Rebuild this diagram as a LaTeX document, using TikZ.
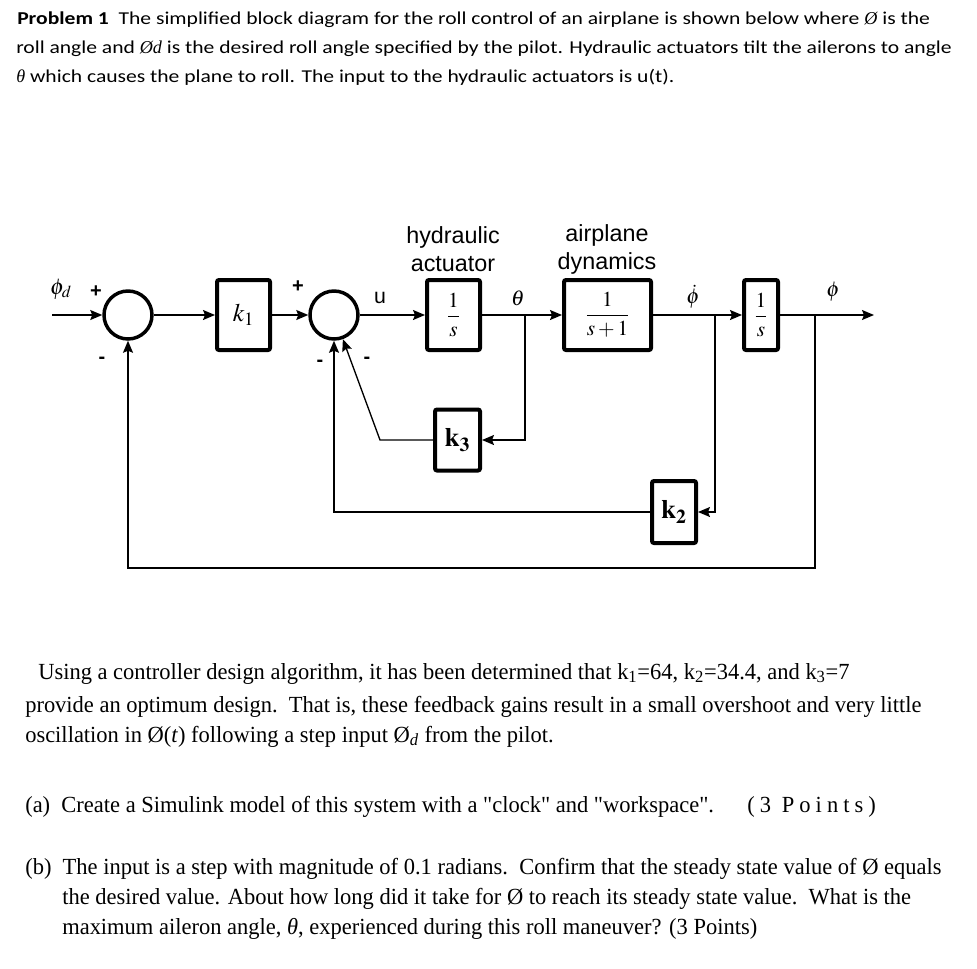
\documentclass[tikz,border=0pt]{standalone}
\usepackage{mathptmx}
\usepackage[no-math]{fontspec}
\setmainfont{Liberation Serif}
\newfontfamily\calib[FakeStretch=1.19]{Carlito}
\newfontfamily\arialf{Liberation Sans}
\newfontfamily\timesc[FakeStretch=0.975]{Liberation Serif}
\usetikzlibrary{arrows.meta}

\begin{document}
\begin{tikzpicture}[x=0.75pt,y=-0.75pt,
        wire/.style={line width=1pt},
        arr/.style={-{Stealth[length=9pt,width=7.5pt,inset=1.5pt]}},
        lbl/.style={inner sep=0pt, font=\arialf\fontsize{16}{19}\selectfont}]

        \useasboundingbox (0,0) rectangle (977,968);

        \begin{scope}[every node/.style={anchor=base west,inner sep=0pt,font=\calib\fontsize{13.6}{16}\selectfont}]
            \node (p1) at (17,24) {\textbf{Problem 1}\ \ The simplified block diagram for the roll control of an airplane is shown below where {\rmfamily\itshape Ø} is the};
            \node (p2) at (16,53) {roll angle and {\rmfamily\itshape Ød} is the desired roll angle specified by the pilot. Hydraulic actuators tilt the ailerons to angle};
            \node (p3) at (16,82) {{\rmfamily\itshape θ} which causes the plane to roll. The input to the hydraulic actuators is u(t).};
        \end{scope}

        \begin{scope}[every node/.style={circle,draw,line width=2.6pt,minimum size=36pt,inner sep=0pt}]
            \node (sum1) at (128,315) {};
            \node (sum2) at (334,315) {};
        \end{scope}

        \begin{scope}[every node/.style={draw,line width=3pt,rounded corners=1.5pt,inner sep=0pt,minimum height=52.5pt,font=\fontsize{16}{19}\selectfont}]
            \node[minimum width=39.75pt,font=\fontsize{19}{22}\selectfont] (k1) at (243.5,315) {$k_1$};
            \node[minimum width=39.75pt] (act) at (453.5,315) {$\displaystyle\frac{1}{s}$};
            \node[minimum width=65.25pt] (plane) at (607.5,315) {$\displaystyle\frac{1}{s+1}$};
            \node[minimum width=25.5pt] (integ) at (761,315) {$\displaystyle\frac{1}{s}$};
        \end{scope}

        \begin{scope}[every node/.style={draw,line width=3pt,rounded corners=1.5pt,inner sep=0pt,font=\fontsize{20}{24}\selectfont}]
            \node[minimum width=33.75pt,minimum height=45.75pt] (k3) at (457.5,440) {$\mathbf{k}_{\mathbf{3}}$};
            \node[minimum width=33pt,minimum height=46.5pt] (k2) at (674,512) {$\mathbf{k}_{\mathbf{2}}$};
        \end{scope}

        \node[lbl,align=center,font=\arialf\fontsize{17.5}{21}\selectfont] (actlbl) at (453,249) {hydraulic\\actuator};
        \node[lbl,align=center,font=\arialf\fontsize{17.5}{21}\selectfont] (planelbl) at (607,249) {airplane\\dynamics};

        \node[lbl,font=\fontsize{17}{20}\selectfont] (phid) at (61,289) {$\phi_d$};
        \node[lbl,font=\arialf\bfseries\fontsize{15}{18}\selectfont] (plus1) at (96,292) {+};
        \node[lbl,font=\arialf\bfseries\fontsize{15}{18}\selectfont] (minus1) at (102,360) {-};
        \node[lbl,font=\arialf\bfseries\fontsize{15}{18}\selectfont] (plus2) at (298,287) {+};
        \node[lbl,font=\arialf\bfseries\fontsize{15}{18}\selectfont] (minus2) at (320,363) {-};
        \node[lbl,font=\arialf\bfseries\fontsize{15}{18}\selectfont] (minus3) at (367,360) {-};
        \node[lbl] (ulbl) at (380,298) {u};
        \node[lbl,font=\fontsize{16}{19}\selectfont] (thlbl) at (518,298) {$\theta$};
        \node[lbl,font=\fontsize{16}{19}\selectfont] (dphilbl) at (693,297) {$\dot{\phi}$};
        \node[lbl,font=\fontsize{16}{19}\selectfont] (philbl) at (833,292) {$\phi$};

        \coordinate (in) at (52,315);
        \coordinate (bth) at (525,315);
        \coordinate (bdphi) at (715,315);
        \coordinate (bphi) at (815,315);
        \coordinate (out) at (874,315);
        \coordinate (c3) at (380,440);
        \coordinate (fb) at (128,568);

        \begin{scope}[every path/.style={wire}]
            \path [arr] (in) edge (sum1);
            \path [arr] (sum1) edge (k1);
            \path [arr] (k1) edge (sum2);
            \path [arr] (sum2) edge (act);
            \path [arr] (act) edge (plane);
            \path [arr] (plane) edge (integ);
            \path [arr] (integ) edge (out);

            \draw [arr] (bth) |- (k3);
            \draw [arr] (bdphi) |- (k2);
            \draw [arr] (k3) -- (c3) -- (sum2);
            \draw [arr] (k2) -| (sum2);
            \draw [arr] (bphi) |- (fb) -- (sum1);
        \end{scope}

        \begin{scope}[every node/.style={anchor=base west,inner sep=0pt,font=\timesc\fontsize{17.3}{20}\selectfont}]
            \node (q1) at (38,679) {Using a controller design algorithm, it has been determined that k\textsubscript{1}=64, k\textsubscript{2}=34.4, and k\textsubscript{3}=7};
            \node (q2) at (25,712) {provide an optimum design.\ \ That is, these feedback gains result in a small overshoot and very little};
            \node (q3) at (25,742) {oscillation in Ø(\textit{t}) following a step input Ø\textsubscript{\textit{d}} from the pilot.};
            \node (qa) at (25,812) {(a)\ \ Create a Simulink model of this system with a "clock" and "workspace".};
            \node (qa2) at (747,812) {\addfontfeature{LetterSpace=22}(3 Points)};
            \node (qb1) at (25,874) {(b)\ \ The input is a step with magnitude of 0.1 radians.\ \ Confirm that the steady state value of Ø equals};
            \node (qb2) at (62,904) {the desired value. About how long did it take for Ø to reach its steady state value.\ \ What is the};
            \node (qb3) at (62,934) {maximum aileron angle, \textit{θ}, experienced during this roll maneuver? (3 Points)};
        \end{scope}

    \end{tikzpicture}
\end{document}
